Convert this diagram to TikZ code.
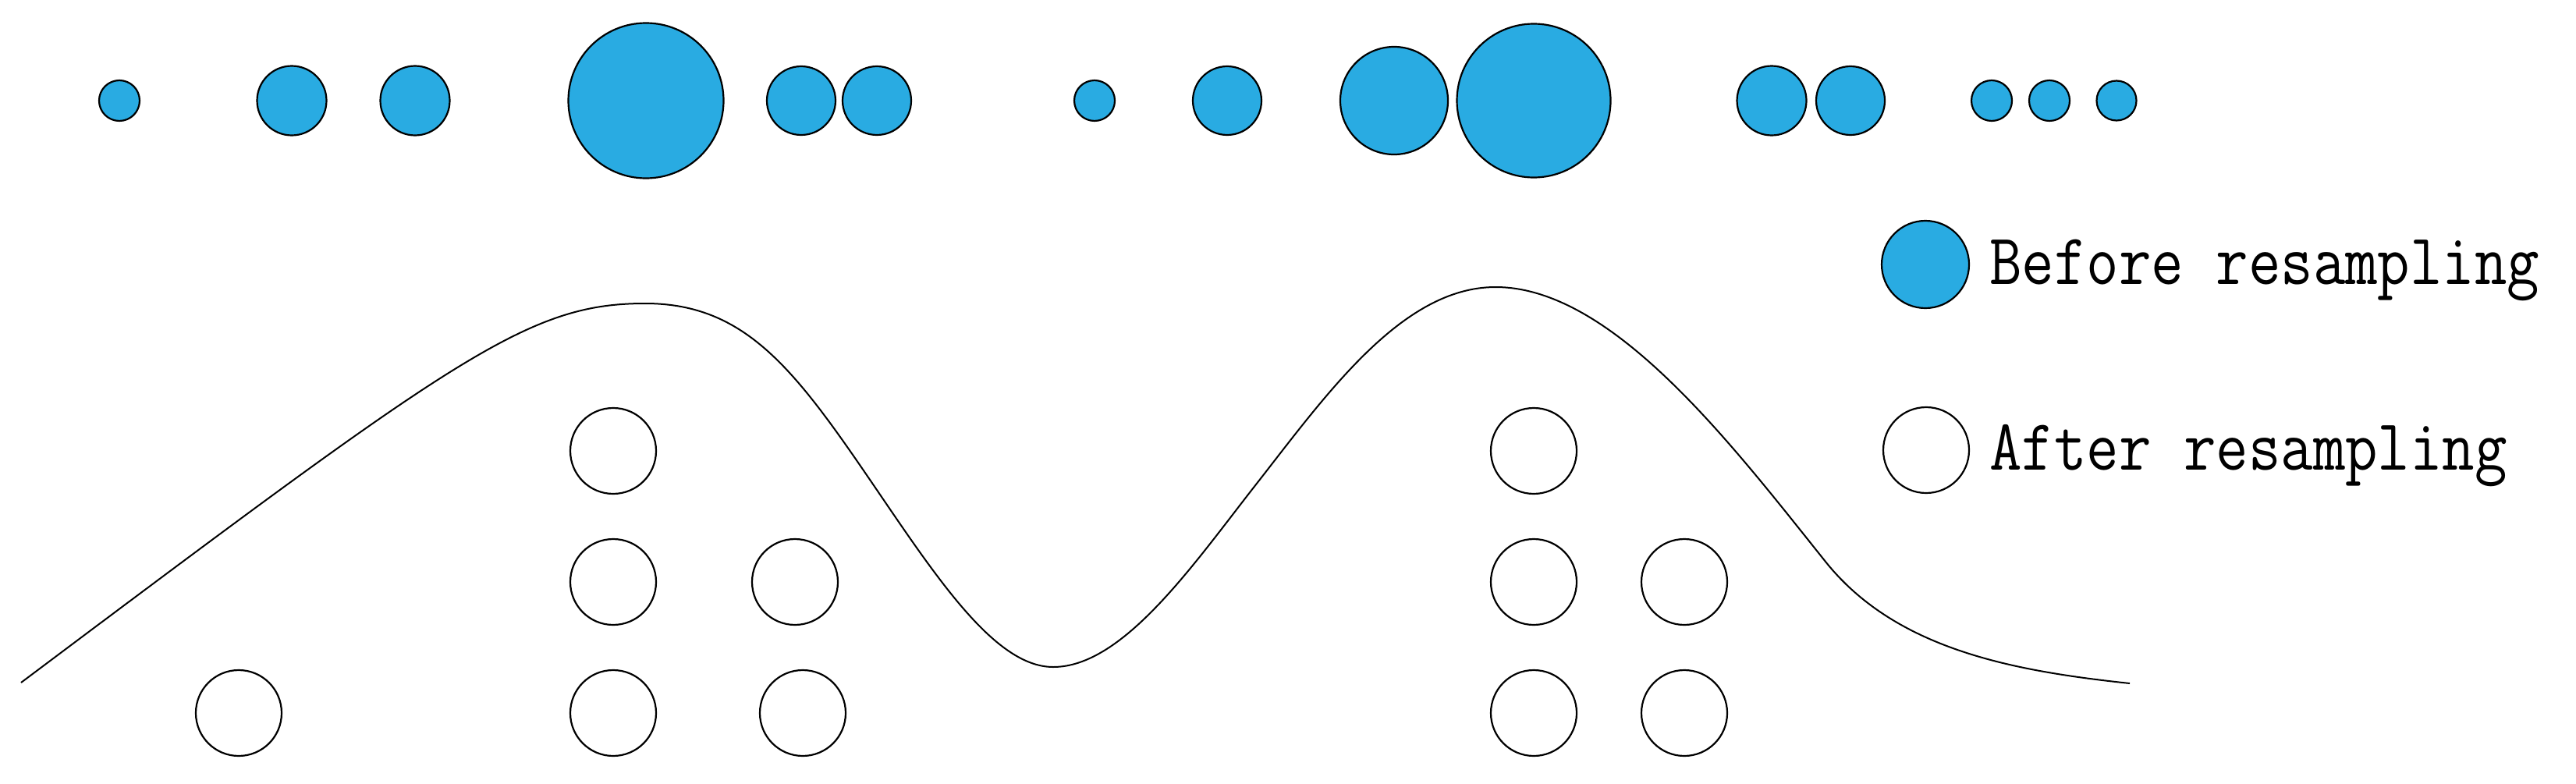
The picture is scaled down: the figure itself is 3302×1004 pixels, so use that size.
\documentclass[tikz,border=0pt]{standalone}
\usepackage{fontspec}
\definecolor{pblue}{RGB}{41,171,226}
\tikzset{
  pfill/.style={circle, draw=black, fill=pblue, line width=2.2pt, inner sep=0pt, outer sep=0pt, minimum size=#1},
  popen/.style={circle, draw=black, fill=white, line width=2.2pt, inner sep=0pt, outer sep=0pt, minimum size=110pt},
  curve/.style={draw=black, line width=2pt},
  legtext/.style={anchor=base west, inner sep=0pt, font=\ttfamily\fontsize{93}{93}\selectfont}
}
\begin{document}
\begin{tikzpicture}[x=1pt,y=-1pt]
\useasboundingbox[fill=white] (0,0) rectangle (3302,1004);
% density curve
\draw[curve] (27,875) .. controls (587,455) and (677,389) .. (827,389)
  .. controls (947,389) and (1010,462.5) .. (1100,593)
  .. controls (1190,723.5) and (1270,855) .. (1350,855)
  .. controls (1440,855) and (1530,723) .. (1610,621)
  .. controls (1700,506) and (1797,368) .. (1917,368)
  .. controls (2067,368) and (2220,570) .. (2340,720)
  .. controls (2430,832.5) and (2580,860) .. (2730,876);
% particles before resampling
\node[pfill=52pt]  (t1)  at (153,129) {};
\node[pfill=89pt]  (t2)  at (374,129) {};
\node[pfill=89pt]  (t3)  at (532,129) {};
\node[pfill=199pt] (t4)  at (828,129) {};
\node[pfill=88pt]  (t5)  at (1027,129) {};
\node[pfill=88pt]  (t6)  at (1124,129) {};
\node[pfill=52pt]  (t7)  at (1403,129) {};
\node[pfill=88pt]  (t8)  at (1573,129) {};
\node[pfill=138pt] (t9)  at (1787,129) {};
\node[pfill=197pt] (t10) at (1966,129) {};
\node[pfill=89pt]  (t11) at (2271,129) {};
\node[pfill=88pt]  (t12) at (2372,129) {};
\node[pfill=52pt]  (t13) at (2553,129) {};
\node[pfill=52pt]  (t14) at (2627,129) {};
\node[pfill=51pt]  (t15) at (2713,129) {};
% particles after resampling
\node[popen] (b1) at (306,914) {};
\node[popen] (b2) at (786,578) {};
\node[popen] (b3) at (786,746) {};
\node[popen] (b4) at (786,914) {};
\node[popen] (b5) at (1019,746) {};
\node[popen] (b6) at (1029,914) {};
\node[popen] (b7) at (1966,578) {};
\node[popen] (b8) at (1966,746) {};
\node[popen] (b9) at (1966,914) {};
\node[popen] (b10) at (2159,746) {};
\node[popen] (b11) at (2159,914) {};
% legend
\node[pfill=112pt] (lg1) at (2468,339) {};
\node[popen] (lg2) at (2469,577) {};
\node[legtext] (lt1) at (2550,364) {\scalebox{0.866}[1]{Before resampling}};
\node[legtext] (lt2) at (2550,602) {\scalebox{0.866}[1]{After resampling}};
\end{tikzpicture}
\end{document}
